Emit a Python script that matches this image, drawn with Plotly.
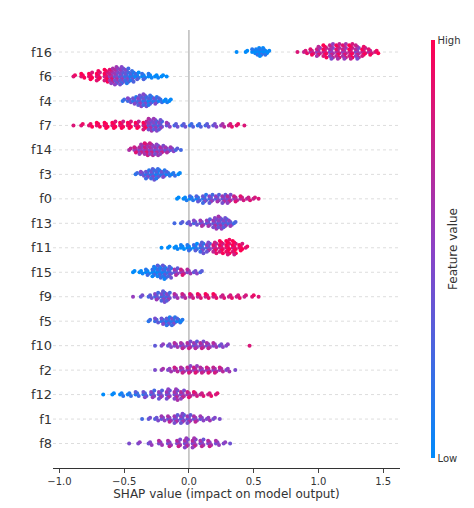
import plotly.graph_objects as go
import numpy as np

features = ["f16","f6","f4","f7","f14","f3","f0","f13","f11","f15","f9","f5","f10","f2","f12","f1","f8"]
# (shap value, feature value 0..1, count)
f16 = [(0.38,0,1),(0.45,0,2),(0.5,0.05,4),(0.53,0,6),(0.56,0.05,7),(0.59,0,5),(0.62,0.1,2),
       (0.85,1,1),(0.9,0.9,3),(0.95,0.8,5),(1.0,0.7,8),(1.05,0.9,10),(1.1,0.6,12),(1.15,0.8,12),(1.2,0.7,12),(1.25,0.9,12),(1.3,0.6,11),(1.35,0.9,8),(1.4,0.8,5),(1.45,1,3)]
f6 = [(-0.88,1,2),(-0.82,1,4),(-0.76,1,6),(-0.7,0.95,8),(-0.64,0.9,10),(-0.6,0.7,12),(-0.56,0.5,14),(-0.52,0.4,14),(-0.48,0.3,12),(-0.44,0.2,9),(-0.4,0.15,6),(-0.35,0.1,5),(-0.3,0.05,4),(-0.25,0.05,3),(-0.2,0,2),(-0.16,0,1)]
f4 = [(-0.5,0.3,2),(-0.46,0.4,4),(-0.42,0.3,6),(-0.38,0.4,9),(-0.34,0.3,10),(-0.3,0.2,8),(-0.26,0.3,6),(-0.22,0.2,4),(-0.18,0.1,3),(-0.14,0.1,2)]
f7 = [(-0.88,1,1),(-0.82,1,2),(-0.76,1,3),(-0.7,1,4),(-0.64,1,5),(-0.58,1,6),(-0.52,0.95,6),(-0.46,1,6),(-0.4,0.9,6),(-0.34,0.9,7),(-0.3,0.5,10),(-0.26,0.4,10),(-0.22,0.4,8),(-0.16,0.5,4),(-0.1,0.4,3),(-0.04,0.4,3),(0.02,0.3,3),(0.08,0.3,3),(0.14,0.4,3),(0.2,0.5,3),(0.26,0.7,3),(0.32,0.9,3),(0.38,1,2),(0.44,1,1)]
f14 = [(-0.45,0.8,2),(-0.41,0.7,5),(-0.37,0.6,8),(-0.33,0.7,10),(-0.29,0.6,10),(-0.25,0.5,9),(-0.21,0.6,7),(-0.17,0.5,5),(-0.13,0.5,4),(-0.09,0.4,2),(-0.05,0.4,1)]
f3 = [(-0.4,0.3,2),(-0.36,0.4,4),(-0.32,0.3,7),(-0.28,0.3,9),(-0.24,0.2,8),(-0.2,0.3,6),(-0.16,0.2,4),(-0.12,0.2,3),(-0.07,0.1,2)]
f0 = [(-0.08,0.05,2),(-0.03,0.1,3),(0.02,0.15,4),(0.07,0.2,5),(0.12,0.3,7),(0.17,0.4,7),(0.22,0.45,6),(0.27,0.5,7),(0.31,0.6,7),(0.36,0.7,5),(0.41,0.8,4),(0.46,0.85,3),(0.51,0.9,2),(0.55,1,1)]
f13 = [(-0.1,0.4,1),(-0.05,0.4,2),(0.0,0.45,3),(0.05,0.4,4),(0.1,0.5,5),(0.15,0.45,6),(0.2,0.5,9),(0.24,0.45,10),(0.28,0.4,8),(0.32,0.4,5),(0.36,0.35,2)]
f11 = [(-0.2,0,1),(-0.15,0,2),(-0.1,0.05,3),(-0.05,0,4),(0.0,0.05,5),(0.05,0.15,6),(0.1,0.3,9),(0.15,0.45,8),(0.2,0.8,9),(0.25,0.9,10),(0.3,1,12),(0.35,0.95,11),(0.4,1,6),(0.45,1,2)]
f15 = [(-0.42,0,2),(-0.37,0.05,3),(-0.32,0.05,5),(-0.27,0.1,8),(-0.23,0.15,10),(-0.19,0.2,11),(-0.15,0.3,9),(-0.1,0.5,6),(-0.05,0.7,5),(0.0,0.6,4),(0.05,0.5,3),(0.1,0.4,2)]
f9 = [(-0.42,0.7,1),(-0.36,0.5,2),(-0.3,0.4,3),(-0.25,0.4,6),(-0.2,0.35,9),(-0.16,0.4,7),(-0.1,0.6,4),(-0.04,0.7,4),(0.02,0.8,4),(0.08,0.85,4),(0.14,0.9,4),(0.2,0.9,4),(0.26,0.85,3),(0.32,0.9,3),(0.38,0.9,3),(0.44,0.9,2),(0.5,1,2),(0.55,1,1)]
f5 = [(-0.3,0.3,2),(-0.25,0.35,4),(-0.2,0.3,5),(-0.16,0.25,7),(-0.12,0.3,7),(-0.08,0.2,4),(-0.05,0.2,2)]
f10 = [(-0.25,0.5,1),(-0.2,0.6,2),(-0.15,0.5,3),(-0.1,0.6,4),(-0.05,0.55,5),(0.0,0.6,6),(0.05,0.5,6),(0.1,0.6,6),(0.15,0.55,5),(0.2,0.6,4),(0.25,0.5,3),(0.3,0.6,2),(0.48,1,1)]
f2 = [(-0.25,0.6,1),(-0.2,0.7,2),(-0.15,0.6,3),(-0.1,0.7,4),(-0.05,0.6,5),(0.0,0.65,6),(0.05,0.7,6),(0.1,0.6,5),(0.15,0.7,5),(0.2,0.65,5),(0.25,0.7,4),(0.3,0.6,3),(0.37,0.6,1)]
f12 = [(-0.65,0.1,1),(-0.58,0.1,2),(-0.52,0.15,3),(-0.46,0.2,3),(-0.4,0.25,4),(-0.34,0.3,5),(-0.28,0.4,6),(-0.22,0.45,7),(-0.16,0.5,8),(-0.1,0.55,9),(-0.05,0.6,7),(0.0,0.7,5),(0.05,0.8,4),(0.1,0.85,3),(0.16,0.9,3),(0.22,0.95,2)]
f1 = [(-0.35,0.4,1),(-0.3,0.5,2),(-0.25,0.45,3),(-0.2,0.5,4),(-0.15,0.55,5),(-0.1,0.5,7),(-0.05,0.45,8),(0.0,0.5,7),(0.05,0.55,5),(0.1,0.5,4),(0.15,0.6,3),(0.2,0.55,2),(0.25,0.6,1)]
f8 = [(-0.45,0.6,1),(-0.38,0.6,2),(-0.3,0.55,3),(-0.22,0.6,4),(-0.15,0.55,5),(-0.08,0.6,6),(-0.02,0.55,8),(0.04,0.6,8),(0.1,0.55,6),(0.16,0.6,5),(0.22,0.55,4),(0.28,0.6,2),(0.33,0.55,1)]
data = [f16,f6,f4,f7,f14,f3,f0,f13,f11,f15,f9,f5,f10,f2,f12,f1,f8]

n = len(features)
xs, ys, cs = [], [], []
for i, rows in enumerate(data):
    base = n - 1 - i
    for (x, v, k) in rows:
        for j in range(k):
            dx = (j % 3 - 1) * 0.012
            lvl = (j + 1) // 2
            sign = 1 if j % 2 else -1
            off = sign * lvl * 0.055
            xs.append(x + dx); ys.append(base + off)
            cs.append(min(1, max(0, v + ((j % 5) - 2) * 0.08)))

fig = go.Figure()
fig.add_trace(go.Scatter(
    x=xs, y=ys, mode="markers",
    marker=dict(size=4, color=cs, cmin=0, cmax=1,
                colorscale=[[0, "#008bfb"], [0.5, "#8c42c6"], [1, "#ff0052"]],
                colorbar=dict(thickness=4, len=1.0, y=0.5, x=1.06, outlinewidth=0,
                              tickvals=[0, 1], ticktext=["Low", "High"], ticks="",
                              tickfont=dict(size=10, color="#333"),
                              title=dict(text="Feature value", side="right", font=dict(size=12, color="#333")))),
    showlegend=False, hoverinfo="skip"))
for i in range(n):
    fig.add_shape(type="line", x0=-1.05, x1=1.63, y0=i, y1=i, line=dict(color="#ddd", width=1, dash="dot"), layer="below")
fig.add_shape(type="line", x0=0, x1=0, y0=-1, y1=16.9, line=dict(color="#999", width=1), layer="below")

fig.update_layout(
    width=474, height=508, plot_bgcolor="white", paper_bgcolor="white",
    margin=dict(l=45, r=74, t=22, b=48),
    font=dict(family="DejaVu Sans", color="#333"),
    xaxis=dict(range=[-1.05, 1.63], tickvals=[-1, -0.5, 0, 0.5, 1, 1.5],
               ticktext=["−1.0", "−0.5", "0.0", "0.5", "1.0", "1.5"],
               showgrid=False, zeroline=False, showline=True, linecolor="#333",
               ticks="outside", ticklen=4, tickfont=dict(size=10),
               title=dict(text="SHAP value (impact on model output)", font=dict(size=12), standoff=2)),
    yaxis=dict(range=[-1, 16.9], tickvals=list(range(n))[::-1], ticktext=features,
               showgrid=False, zeroline=False, showline=False, ticks="", tickfont=dict(size=13)),
)
fig.write_html("out.html")
